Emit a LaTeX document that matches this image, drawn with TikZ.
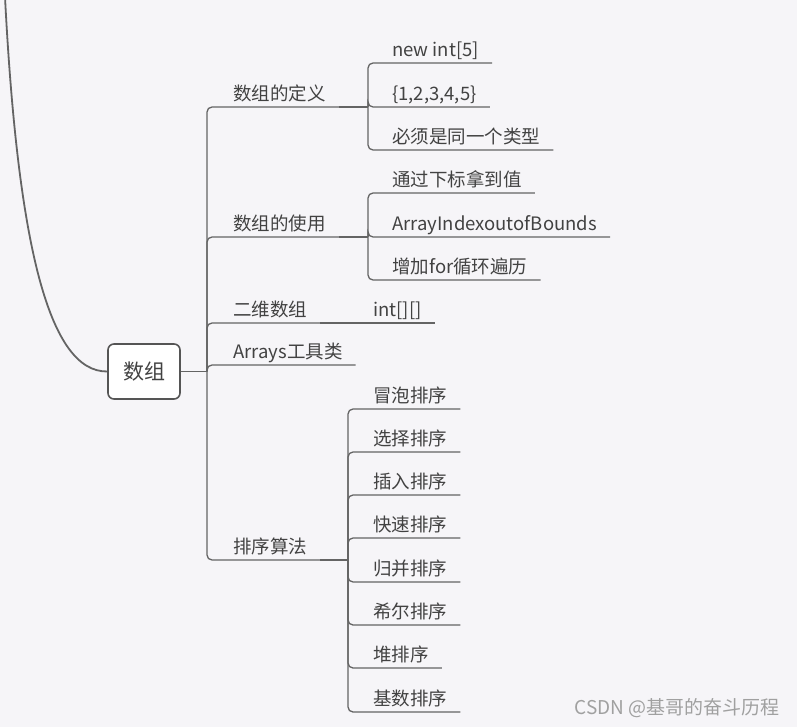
\documentclass[tikz,border=0pt]{standalone}
\usepackage{fontspec}
\setmainfont{Noto Sans CJK SC}
\usetikzlibrary{positioning}
\definecolor{bgcol}{RGB}{246,245,248}
\definecolor{linecol}{RGB}{100,100,100}
\definecolor{textcol}{RGB}{66,66,66}
\definecolor{markcol}{RGB}{160,160,160}

\begin{document}
\begin{tikzpicture}[x=1pt,y=-1pt]
  \tikzset{RootStyle/.style = {
    shape          = rectangle,
    draw           = linecol!85!black,
    fill           = white,
    rounded corners= 6pt,
    line width     = 1.6pt,
    text           = textcol,
    minimum width  = 72pt,
    minimum height = 55pt,
    font           = \fontsize{21}{24}\selectfont
    }
  }
  \tikzset{TopicStyle/.style = {
    anchor       = south west,
    text         = textcol,
    inner xsep   = 13pt,
    inner ysep   = 6.5pt,
    text height  = 14pt,
    text depth   = 0pt,
    font         = \fontsize{18.5}{21}\selectfont
    }
  }
  \tikzset{EdgeStyle/.style = {
    draw           = linecol,
    line width     = 1.3pt,
    rounded corners= 5pt
    }
  }
  \tikzset{CurveStyle/.style = {
    draw       = linecol,
    line width = 1.8pt
    }
  }

  \fill[bgcol] (0,0) rectangle (797,727);
  \useasboundingbox (0,0) rectangle (797,727);

	\node[RootStyle](A1) at (144,371.5) {数组};
	\coordinate (T1) at (5,-3);
	\draw[CurveStyle] (T1) .. controls (18,250) and (50,372) .. (A1.west);

	% first level
	\node[TopicStyle](B1) at (220,107) {数组的定义};
	\node[TopicStyle](B2) at (220,237) {数组的使用};
	\node[TopicStyle](B3) at (220,323) {二维数组};
	\node[TopicStyle](B4) at (220,365) {Arrays工具类};
	\node[TopicStyle](B5) at (220,560) {排序算法};

	% second level
	\node[TopicStyle](C1) at (379,63) {new int[5]};
	\node[TopicStyle](C2) at (379,107) {\{1,2,3,4,5\}};
	\node[TopicStyle](C3) at (379,150) {必须是同一个类型};
	\node[TopicStyle](D1) at (379,193) {通过下标拿到值};
	\node[TopicStyle](D2) at (379,237) {ArrayIndexoutofBounds};
	\node[TopicStyle](D3) at (379,280) {增加for循环遍历};
	\node[TopicStyle](E1) at (360,323) {int[][]};
	\node[TopicStyle](F1) at (360,409) {冒泡排序};
	\node[TopicStyle](F2) at (360,452) {选择排序};
	\node[TopicStyle](F3) at (360,495) {插入排序};
	\node[TopicStyle](F4) at (360,538) {快速排序};
	\node[TopicStyle](F5) at (360,582) {归并排序};
	\node[TopicStyle](F6) at (360,625) {希尔排序};
	\node[TopicStyle](F7) at (360,668) {堆排序};
	\node[TopicStyle](F8) at (360,712) {基数排序};

	\coordinate (J1) at (207,371.5);
	\coordinate (J2) at (368,107);
	\coordinate (J3) at (368,237);
	\coordinate (J4) at (348,560);

	\draw[EdgeStyle](A1.east) -- (J1);
	\foreach \b in {B1,B2,B3,B4,B5}
	  \draw[EdgeStyle](J1) |- (\b.south east);

	\draw[EdgeStyle](B1.south east) -- (J2);
	\foreach \c in {C1,C2,C3}
	  \draw[EdgeStyle](J2) |- (\c.south east);

	\draw[EdgeStyle](B2.south east) -- (J3);
	\foreach \c in {D1,D2,D3}
	  \draw[EdgeStyle](J3) |- (\c.south east);

	\draw[EdgeStyle](B3.south east) -- (E1.south east);

	\draw[EdgeStyle](B5.south east) -- (J4);
	\foreach \c in {F1,F2,F3,F4,F5,F6,F7,F8}
	  \draw[EdgeStyle](J4) |- (\c.south east);

	\node[text=markcol, font=\fontsize{19}{22}\selectfont, anchor=east](W1) at (783,708) {CSDN @基哥的奋斗历程};

\end{tikzpicture}
\end{document}
